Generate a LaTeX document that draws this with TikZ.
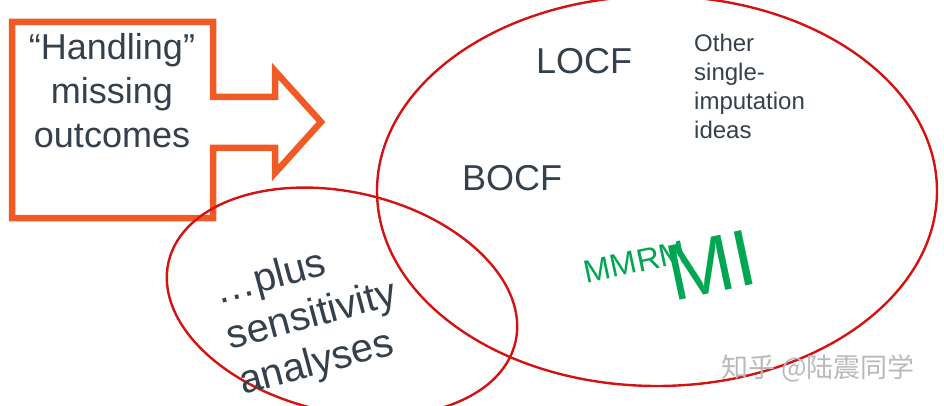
\documentclass[tikz,border=0pt]{standalone}
\usepackage{fontspec}
\setmainfont{Liberation Sans}
\newfontfamily\cjkfont{Noto Sans CJK SC}
\definecolor{slate}{RGB}{52,64,75}
\definecolor{arroworange}{RGB}{240,90,36}
\definecolor{ringred}{RGB}{212,18,18}
\definecolor{migreen}{RGB}{0,166,81}
\definecolor{markgray}{RGB}{185,185,185}
\begin{document}
\begin{tikzpicture}[x=1pt, y=-1pt, inner sep=0pt,
  txt/.style={text=slate, font=\fontsize{36}{44}\selectfont},
  ring/.style={draw=ringred, line width=2.4pt},
  grn/.style={text=migreen}]
\useasboundingbox (0,0) rectangle (944,406);
\clip (0,0) rectangle (944,406);
\draw[arroworange, line width=6.5pt, line join=miter]
  (12,22) -- (213,22) -- (213,97) -- (275,97) -- (275,71) -- (321,122)
  -- (275,173) -- (275,148) -- (213,148) -- (213,218) -- (12,218) -- cycle;
\node[txt, align=center] (T_hand) at (112,91) {``Handling''\\missing\\outcomes};
\draw[ring] (657,191) ellipse [x radius=280, y radius=195];
\draw[ring, rotate around={-13:(342,302)}] (342,302) ellipse [x radius=178, y radius=110];
\node[txt] (T_locf) at (584,61) {LOCF};
\node[txt] (T_bocf) at (512,178) {BOCF};
\node[text=slate, font=\fontsize{24}{29}\selectfont, align=left, anchor=north west] (T_other) at (694,34) {Other\\single-\\imputation\\ideas};
\node[grn, font=\fontsize{32}{38}\selectfont, rotate=12] (T_mmrm) at (635,262) {MMRM};
\node[grn, font=\fontsize{80}{90}\selectfont, rotate=12] (T_mi) at (711,265) {MI};
\node[txt, font=\fontsize{40}{47}\selectfont, align=left, rotate=15] (T_sens) at (312,317) {\ldots plus\\sensitivity\\analyses};
\node[text=markgray, font=\cjkfont\fontsize{27}{31}\selectfont] (T_mark) at (818,368) {知乎 @陆震同学};
\end{tikzpicture}
\end{document}
